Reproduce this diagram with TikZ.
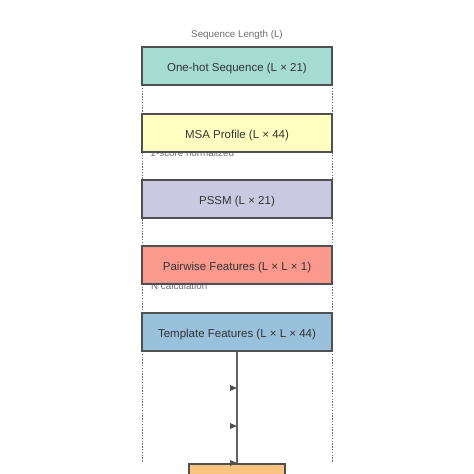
\documentclass[tikz,border=0pt]{standalone}
\usepackage{fontspec}
\setmainfont{Liberation Sans}
\usepackage{xcolor}
\definecolor{fgdark}{RGB}{51,51,51}
\definecolor{fgline}{RGB}{80,80,80}
\definecolor{fgconn}{RGB}{100,100,100}
\definecolor{fggray}{RGB}{110,110,110}
\definecolor{fgteal}{RGB}{164,220,210}
\definecolor{fgyellow}{RGB}{255,255,194}
\definecolor{fglilac}{RGB}{203,200,225}
\definecolor{fgsalmon}{RGB}{252,153,142}
\definecolor{fgblue}{RGB}{153,193,220}
\definecolor{fgorange}{RGB}{253,195,129}
\tikzset{
  featbox/.style={draw=fgline,line width=1.5pt,minimum width=190pt,minimum height=38pt,
    inner sep=0pt,text=fgdark,text height=11pt,text depth=0.5pt,font=\fontsize{11.5}{13}\selectfont},
  smallnote/.style={text=fggray,inner sep=0pt,font=\fontsize{9.8}{11}\selectfont},
  guide/.style={fggray,line width=1pt,dash pattern=on 1.4pt off 1.4pt}
}

\begin{document}
\begin{tikzpicture}[x=1pt,y=-1pt]
\useasboundingbox (0,0) rectangle (474,474);
\clip (0,0) rectangle (474,474);
% ---- titel ----
\node[smallnote] (seqlen) at (237,35) {Sequence Length (L)};
% hilfslinien (gepunktet)
\draw[guide] (142,85) -- (142,463);
\draw[guide] (332,85) -- (332,463);
% notizen hinter den boxen
\node[smallnote,anchor=west] (znote) at (151,153) {z-score normalized};
\node[smallnote,anchor=west] (nnote) at (151,286) {N calculation};
% ---- feature boxen ----
\node[featbox,fill=fgteal] (onehot) at (237,66) {One-hot Sequence (L × 21)};
\node[featbox,fill=fgyellow] (msa) at (237,133) {MSA Profile (L × 44)};
\node[featbox,fill=fglilac] (pssm) at (237,199) {PSSM (L × 21)};
\node[featbox,fill=fgsalmon] (pair) at (237,265) {Pairwise Features (L × L × 1)};
\node[featbox,fill=fgblue] (tmpl) at (237,332) {Template Features (L × L × 44)};
% untere box (abgeschnitten)
\node[featbox,fill=fgorange,minimum width=96pt] (concat) at (237,483) {};
% verbindung
\draw[fgconn,line width=1.3pt] (tmpl.south) -- (concat.north);
\foreach \yy in {388,426,463}
  \fill[fgline] (230,\yy-3) -- (237,\yy) -- (230,\yy+3) -- cycle;
\end{tikzpicture}
\end{document}
